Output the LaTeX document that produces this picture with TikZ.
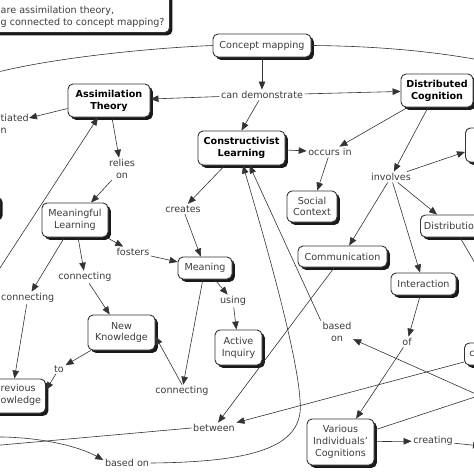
\documentclass[tikz,border=0pt]{standalone}
\usepackage{fontspec}
\setmainfont{DejaVu Sans}
\usetikzlibrary{arrows.meta,shadows}
\newcommand\cmf{\fontsize{9.6}{11.8}\selectfont}
\definecolor{ink}{HTML}{3C3C3C}
\definecolor{edgec}{HTML}{333333}
\tikzset{
 concept/.style={draw=edgec, line width=0.9pt, rounded corners=5pt, fill=white, align=center, font=\cmf, text=ink, inner sep=1pt,
   drop shadow={shadow xshift=2.8pt, shadow yshift=-2.8pt, fill=black!90, opacity=1}},
 bconcept/.style={concept, font=\cmf\bfseries, text=black},
 lbl/.style={align=center, font=\cmf, text=ink, inner sep=1.5pt},
 link/.style={draw=edgec, line width=0.6pt, -{Triangle[length=8pt,width=6.5pt]}},
 plainline/.style={draw=edgec, line width=0.6pt},
}
\begin{document}
\begin{tikzpicture}[x=1pt,y=-1pt]
\useasboundingbox (0,0) rectangle (474,474);
\clip (0,0) rectangle (474,474);
\fill[white] (0,0) rectangle (474,474);

% nodes
\node[concept, minimum width=190pt, minimum height=43pt, anchor=south east] (q) at (170,33) {};
\node[lbl, anchor=west, align=left, inner xsep=0pt] (qt) at (0.5,17) {are assimilation theory,\\g connected to concept mapping?};
\node[concept, minimum width=98pt, minimum height=23pt] (cm) at (262,45.5) {Concept mapping};
\node[lbl] (cd) at (262,95) {can demonstrate};
\node[bconcept, minimum width=82pt, minimum height=33pt] (at) at (109,100.5) {Assimilation\\Theory};
\node[bconcept, minimum width=72pt, minimum height=33pt] (dc) at (437,90.5) {Distributed\\Cognition};
\node[lbl, anchor=west, align=left, inner xsep=0pt] (tia) at (0.5,124) {tiated\\n};
\node[bconcept, minimum width=87pt, minimum height=34pt] (cl) at (241.5,148) {Constructivist\\Learning};
\node[lbl] (occ) at (330,152) {occurs in};
\node[concept, minimum width=50pt, minimum height=31pt] (sc) at (312,206.5) {Social\\Context};
\node[lbl] (inv) at (391,177) {involves};
\node[concept, minimum width=40pt, minimum height=34pt, anchor=west] (rt) at (465,145) {};
\node[concept, text width=80pt, align=left, inner xsep=3.5pt, minimum height=22pt, anchor=west] (dist) at (420,226) {Distributio};
\node[concept, minimum width=89pt, minimum height=21pt] (comm) at (342.5,256.5) {Communication};
\node[concept, minimum width=65pt, minimum height=22pt] (inter) at (423.5,284) {Interaction};
\node[lbl] (of) at (407,342) {of};
\node[concept, text width=30pt, align=left, inner xsep=5pt, minimum height=22pt, anchor=west] (rm) at (464,354) {c};
\node[lbl] (bon1) at (337,332) {based\\on};
\node[concept, minimum width=67pt, minimum height=46pt] (vic) at (340.5,442) {Various\\Individuals'\\Cognitions};
\node[lbl] (creat) at (433,441) {creating};
\node[lbl] (betw) at (214,428) {between};
\node[lbl] (bon2) at (127,463) {based on};
\node[lbl] (conn3) at (182,391) {connecting};
\node[concept, minimum width=67pt, minimum height=35pt] (nk) at (121.5,332.5) {New\\Knowledge};
\node[lbl] (to) at (59,369) {to};
\node[concept, minimum width=68pt, minimum height=34pt, anchor=east] (pk) at (46,396) {};
\node[lbl, anchor=west, align=left, inner xsep=0pt] (pkt) at (0.5,394.5) {revious\\owledge};
\node[concept, minimum width=47pt, minimum height=35pt] (ai) at (238.5,347.5) {Active\\Inquiry};
\node[lbl] (using) at (233,301) {using};
\node[concept, minimum width=54pt, minimum height=22pt] (mean) at (205,268) {Meaning};
\node[lbl] (fost) at (133,252) {fosters};
\node[lbl] (creates) at (183,209) {creates};
\node[concept, minimum width=66pt, minimum height=34pt] (ml) at (75,220) {Meaningful\\Learning};
\node[lbl] (relies) at (122,169) {relies\\on};
\node[lbl] (conn2) at (85,277) {connecting};
\node[lbl, anchor=west, inner xsep=0pt] (conn1) at (1,298) {connecting};
\node[concept, minimum width=40pt, minimum height=23pt, anchor=east] (lb) at (0.3,206) {};

% off-picture ends
\coordinate (offA) at (-10,74);
\coordinate (offB) at (490,62);
\coordinate (offC) at (-4,274);
\coordinate (offD) at (482,275);
\coordinate (offE) at (487,399);
\coordinate (offF) at (487,393);
\coordinate (offG) at (-10,446);
\coordinate (offH) at (-10,437);
\coordinate (offI) at (481,446);

% connectors
\draw[link] (cm) -- (cd);
\draw[link] (cd) -- (at);
\draw[link] (cd) -- (dc);
\draw[link] (cd) -- (cl.north);
\draw[plainline] (cm.west) .. controls (150,48) and (50,58) .. (offA);
\draw[plainline] (cm.east) .. controls (380,46) and (440,52) .. (offB);
\draw[link] ([yshift=-8pt]at.west) -- ([yshift=6pt]tia.east);
\draw[link] ([xshift=3pt]at.south) -- ([xshift=-3pt]relies.north);
\draw[link] (relies) -- (ml);
\draw[link] (offC) -- (at);
\draw[link] (ml) -- (conn1);
\draw[link] (conn1) -- (pk);
\draw[link] (ml) -- (conn2);
\draw[link] (conn2) -- (nk);
\draw[link] (ml) -- (fost);
\draw[link] (fost) -- (mean);
\draw[link] (cl) -- (creates);
\draw[link] (creates) -- (mean);
\draw[link] (mean) -- (using);
\draw[link] (using) -- (ai);
\draw[link] (mean) -- (conn3);
\draw[link] (conn3.north) -- ([yshift=-4pt]nk.east);
\draw[link] (nk) -- (to);
\draw[link] (to) -- ([yshift=6pt]pk.east);
\draw[link] (cl) -- (occ);
\draw[link] (occ) -- (sc);
\draw[link] (dc) -- (occ);
\draw[link] (dc) -- (inv);
\draw[link] (inv) -- (rt);
\draw[link] (inv) -- ([xshift=17pt]dist.north west);
\draw[link] (inv) -- (comm);
\draw[link] (inv) -- (inter);
\draw[plainline] ([xshift=40pt]dist.south west) -- (offD);
\draw[link] (inter) -- (of);
\draw[link] (of) -- (vic);
\draw[link] (comm) -- (betw);
\draw[link] ([yshift=-8pt]rm.west) -- (betw.north east);
\draw[link] (offE) -- (bon1);
\draw[plainline] ([yshift=12pt]vic.east) -- (offF);
\draw[link] (bon1.north west) -- (cl);
\draw[link] (bon2.east) .. controls (260,462) and (305,445) .. (300,400) .. controls (297,350) and (262,230) .. ([xshift=1.5pt]cl.south);
\draw[plainline] (betw.west) -- (offG);
\draw[link] (offH) .. controls (40,436) and (80,447) .. ([yshift=3pt]bon2.west);
\draw[link] (vic) -- (creat);
\draw[link] (creat) -- (offI);
\end{tikzpicture}
\end{document}
